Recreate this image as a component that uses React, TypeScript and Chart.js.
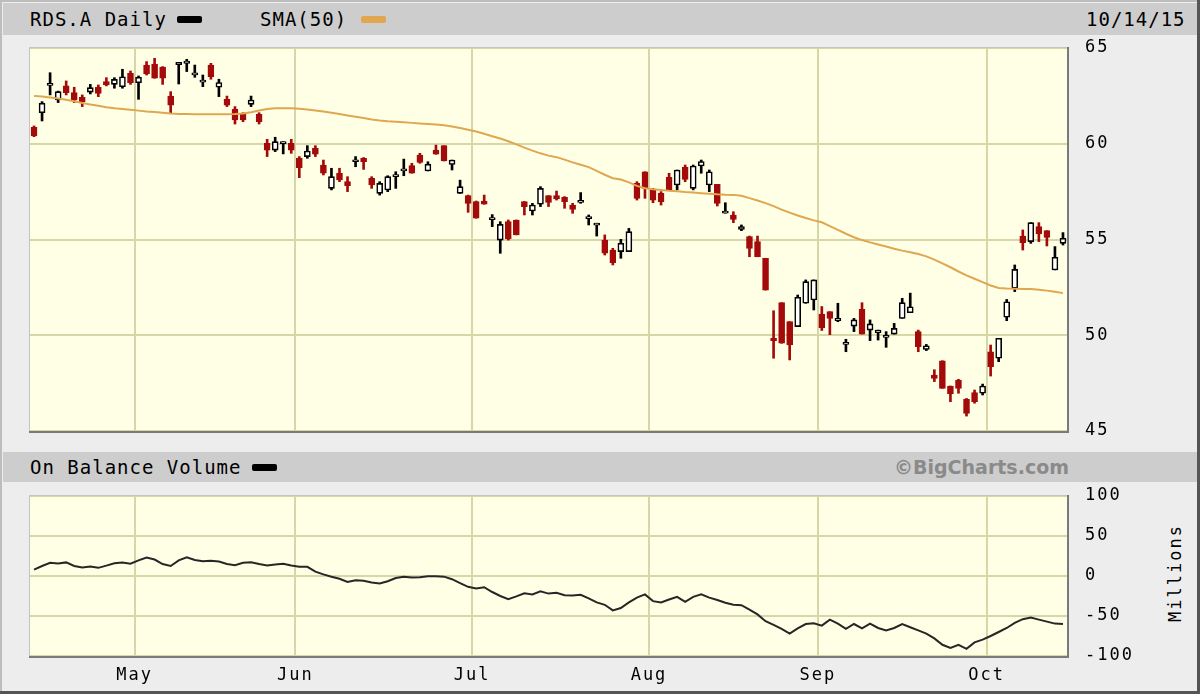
import React, { useEffect, useRef } from 'react';
import { Chart, registerables } from 'chart.js';

Chart.register(...registerables);

// ---------- categories ----------
const START_DATE = '2015-04-14';
const END_DATE = '2015-10-14';
const HOLIDAYS = ['2015-05-25', '2015-07-03', '2015-09-07'];
const MONTH_NAMES = ['Jan', 'Feb', 'Mar', 'Apr', 'May', 'Jun', 'Jul', 'Aug', 'Sep', 'Oct', 'Nov', 'Dec'];

function buildTradingDays(start: string, end: string, holidays: string[]): string[] {
  const out: string[] = [];
  const d = new Date(start + 'T00:00:00Z');
  const e = new Date(end + 'T00:00:00Z');
  while (d <= e) {
    const dow = d.getUTCDay();
    const iso = d.toISOString().slice(0, 10);
    if (dow !== 0 && dow !== 6 && !holidays.includes(iso)) out.push(iso);
    d.setUTCDate(d.getUTCDate() + 1);
  }
  return out;
}
const dates = buildTradingDays(START_DATE, END_DATE, HOLIDAYS);

// ---------- series ----------
const opens = [
  60.86, 61.62, 63.05, 62.29, 63.02, 62.67, 62.43, 62.70, 62.95, 63.24, 63.10, 62.98, 63.68,
  63.19, 64.11, 64.16, 64.00, 62.49, 64.13, 64.20, 63.60, 63.22, 64.11, 62.95, 62.32, 61.80, 61.54, 62.06, 61.54, 60.02, 59.67, 60.00, 60.02,
  59.24, 59.33, 59.76, 58.89, 57.67, 58.46, 58.02, 59.06, 59.24, 58.20, 57.41, 57.59, 58.28, 58.58, 58.86, 59.41, 58.58, 59.67, 59.90, 58.92, 57.41, 57.29,
  56.98, 57.01, 56.04, 54.97, 55.93, 56.02, 56.98, 56.49, 56.84, 57.29, 57.29, 57.20, 56.80, 56.94, 56.09, 55.75, 54.97, 54.45, 54.37, 54.37, 57.93, 58.54,
  57.59, 57.41, 58.25, 57.85, 58.77, 57.67, 58.84, 57.85, 57.88, 56.37, 56.28, 55.53, 55.15, 54.89, 54.02, 49.84, 51.70, 50.71, 50.45, 51.67, 51.84,
  51.10, 51.23, 50.76, 49.52, 50.48, 51.35, 50.27, 50.13, 49.89, 50.06, 50.88, 51.18, 50.19, 49.26, 47.92, 48.67, 47.35, 47.66, 46.65, 47.00, 46.97,
  49.14, 48.80, 50.94, 52.45, 55.18, 54.89, 55.67, 55.46, 53.41, 54.80,
];
const highs = [
  60.93, 62.20, 63.71, 62.75, 63.28, 62.95, 62.55, 63.10, 63.07, 63.45, 63.45, 63.89, 63.80,
  63.54, 64.29, 64.46, 64.03, 62.72, 64.25, 64.41, 64.11, 63.59, 64.20, 63.37, 62.49, 61.94, 61.62, 62.49, 61.62, 60.23, 60.34, 60.11, 60.23,
  59.33, 59.90, 59.90, 59.15, 58.72, 58.72, 58.28, 59.33, 59.28, 58.28, 58.02, 58.33, 58.54, 59.20, 58.98, 59.50, 59.06, 59.93, 59.90, 59.15, 58.10, 57.32,
  57.01, 57.32, 56.30, 55.93, 56.02, 56.02, 56.98, 56.89, 57.76, 57.29, 57.53, 57.24, 56.89, 57.45, 56.28, 55.85, 55.24, 54.54, 55.01, 55.58, 58.02, 58.54,
  57.67, 57.50, 58.46, 58.63, 58.89, 58.89, 59.15, 58.63, 57.88, 56.92, 56.45, 55.76, 55.18, 55.18, 54.02, 51.28, 51.70, 50.71, 52.10, 52.89, 52.89,
  51.50, 51.23, 51.67, 49.79, 50.88, 51.70, 50.80, 50.27, 50.19, 50.62, 51.93, 52.20, 50.27, 49.52, 48.20, 48.67, 47.35, 47.70, 46.70, 47.14, 47.45,
  49.49, 49.84, 51.87, 53.67, 55.50, 55.88, 55.88, 55.46, 54.63, 55.36,
];
const lows = [
  60.37, 61.19, 62.55, 62.15, 62.55, 62.15, 61.94, 62.60, 62.46, 63.02, 62.90, 62.90, 63.10,
  62.32, 63.59, 63.42, 63.10, 61.59, 63.12, 63.77, 63.47, 62.98, 63.37, 62.46, 61.94, 61.03, 61.15, 61.94, 61.03, 59.33, 59.59, 59.47, 59.50,
  58.23, 59.24, 59.33, 58.37, 57.59, 58.02, 57.50, 58.80, 58.66, 57.67, 57.32, 57.50, 57.67, 58.33, 58.46, 58.98, 58.58, 59.45, 59.10, 58.63, 57.41, 56.42,
  56.11, 56.84, 55.67, 54.28, 54.97, 55.24, 56.28, 56.28, 56.72, 56.72, 57.06, 56.63, 56.37, 56.89, 55.76, 55.18, 54.19, 53.67, 54.02, 54.37, 57.06, 57.15,
  56.92, 56.80, 57.59, 57.59, 58.02, 57.59, 58.46, 57.50, 56.75, 56.37, 55.88, 55.46, 54.10, 54.10, 52.36, 48.80, 49.58, 48.71, 50.45, 51.67, 51.32,
  50.25, 50.03, 50.71, 49.14, 50.19, 50.06, 49.72, 49.75, 49.37, 50.06, 50.88, 51.18, 49.14, 49.20, 47.58, 47.23, 46.53, 46.97, 45.78, 46.45, 46.88,
  47.87, 48.62, 50.76, 52.28, 54.45, 54.80, 54.89, 54.66, 53.41, 54.71,
];
const closes = [
  60.41, 62.11, 63.15, 62.72, 62.67, 62.29, 62.20, 62.93, 62.63, 63.07, 63.36, 63.50, 63.19,
  63.47, 63.64, 63.42, 63.42, 62.02, 64.25, 64.32, 63.62, 63.28, 63.50, 63.20, 62.02, 61.24, 61.24, 62.28, 61.15, 59.67, 60.11, 60.11, 59.67,
  58.75, 59.62, 59.45, 58.46, 58.28, 58.11, 57.81, 59.10, 59.06, 57.85, 57.93, 58.28, 58.35, 58.66, 58.46, 59.03, 58.93, 59.45, 59.10, 59.15, 57.76, 56.89,
  56.11, 56.84, 56.11, 55.79, 55.03, 55.24, 56.72, 56.80, 57.67, 56.94, 57.12, 56.98, 56.57, 57.01, 56.16, 55.85, 54.28, 53.79, 54.80, 55.41, 57.15, 57.67,
  57.06, 56.98, 57.59, 58.63, 58.14, 58.84, 59.07, 58.54, 56.89, 56.49, 56.05, 55.67, 54.54, 54.10, 52.36, 49.72, 49.58, 49.49, 51.98, 52.80, 52.89,
  50.40, 50.88, 50.88, 49.60, 50.80, 50.06, 50.59, 50.27, 50.00, 50.36, 51.70, 51.49, 49.40, 49.45, 47.75, 47.23, 46.93, 47.23, 45.92, 46.53, 47.35,
  48.36, 49.84, 51.75, 53.44, 54.83, 55.88, 55.29, 55.11, 54.07, 55.06,
];
const sma50 = [
  62.50, 62.47, 62.42, 62.36, 62.30, 62.22, 62.13, 62.05, 61.98, 61.91, 61.85, 61.81, 61.77,
  61.73, 61.69, 61.66, 61.62, 61.58, 61.56, 61.55, 61.54, 61.54, 61.54, 61.54, 61.54, 61.55, 61.58, 61.65, 61.74, 61.82, 61.85, 61.86, 61.85,
  61.83, 61.79, 61.74, 61.68, 61.62, 61.55, 61.48, 61.41, 61.34, 61.27, 61.22, 61.18, 61.15, 61.12, 61.09, 61.06, 61.03, 61.00, 60.97, 60.90, 60.82, 60.73,
  60.64, 60.52, 60.39, 60.27, 60.13, 59.97, 59.80, 59.64, 59.50, 59.38, 59.30, 59.17, 59.03, 58.90, 58.78, 58.58, 58.38, 58.20, 58.13, 57.98, 57.80, 57.68,
  57.62, 57.59, 57.55, 57.52, 57.48, 57.45, 57.42, 57.39, 57.36, 57.34, 57.33, 57.28, 57.16, 57.04, 56.90, 56.74, 56.56, 56.40, 56.25, 56.12, 56.00,
  55.90, 55.70, 55.50, 55.30, 55.12, 54.97, 54.85, 54.74, 54.63, 54.52, 54.42, 54.33, 54.24, 54.12, 53.95, 53.75, 53.55, 53.33, 53.13, 52.95, 52.77,
  52.60, 52.47, 52.44, 52.43, 52.42, 52.41, 52.38, 52.33, 52.27, 52.20,
];
const obv = [
  8, 12.5, 16.5, 15.5, 17, 12.5, 10.5, 12, 10.2, 13, 16, 17, 15.4,
  19.5, 23, 20.6, 15, 12.5, 19.5, 23.5, 20, 18.5, 19, 18, 15, 13.5, 16.5, 17.3, 15, 13, 14.5, 15.2, 13,
  11.5, 11.5, 5.5, 2, -1, -3.5, -7.5, -5.2, -6, -8, -9.3, -6.5, -2.5, -1, -1.8, -1.5, -0.2, -0.3, -0.8, -4, -9, -13.5,
  -15.5, -14, -20, -25, -29, -25.5, -21.7, -23, -19, -22, -21, -24, -24.5, -23.5, -28, -33, -36, -43, -40, -33, -27, -23,
  -31.4, -33, -29.4, -26, -32.3, -26, -23, -27, -30, -33.5, -36, -36.5, -42, -48, -56.5, -61, -66, -72, -65.5, -60, -59,
  -62, -54.5, -59.5, -66, -60, -65.5, -59.5, -65, -68, -65, -60, -64, -68, -72, -78, -86, -90, -86, -91, -83, -79.5,
  -75, -70, -65, -58.5, -54, -52, -54.5, -57, -59.5, -60,
];

// ---------- tick values ----------
const priceTicks = [45, 50, 55, 60, 65];
const obvTicks = [-100, -50, 0, 50, 100];

// ---------- styles ----------
const RED = '#A30B0B';
const BLACK = '#000000';
const SMA_COLOR = '#E0A650';
const OBV_COLOR = '#262626';
const PLOT_BG = '#FFFFE6';
const GRID = '#D6D6A6';
const PAGE_BG = '#EDEDED';
const BAND_BG = '#CDCDCD';
const MONO = '"DejaVu Sans Mono", monospace';

const monthStartLabel: Record<number, string> = {};
dates.forEach((d, i) => {
  if (i > 0 && d.slice(5, 7) !== dates[i - 1].slice(5, 7)) {
    monthStartLabel[i] = MONTH_NAMES[parseInt(d.slice(5, 7), 10) - 1];
  }
});

const gridColorFn = (ctx: any) => (monthStartLabel[ctx.index] ? GRID : 'rgba(0,0,0,0)');

const plotDecor = {
  id: 'plotDecor',
  beforeDraw(chart: any) {
    const { ctx, chartArea: a } = chart;
    ctx.letterSpacing = '2px';
    ctx.save();
    ctx.fillStyle = PLOT_BG;
    ctx.fillRect(a.left, a.top, a.right - a.left, a.bottom - a.top);
    ctx.restore();
  },
  afterDraw(chart: any) {
    const { ctx, chartArea: a } = chart;
    ctx.save();
    ctx.fillStyle = '#c4c4c4';
    ctx.fillRect(a.left - 1, a.top - 1, a.right - a.left + 1, 1);
    ctx.fillRect(a.left - 1, a.top - 1, 1, a.bottom - a.top + 1);
    ctx.fillStyle = '#7a7a7a';
    ctx.fillRect(a.right, a.top - 1, 2, a.bottom - a.top + 3);
    ctx.fillRect(a.left - 1, a.bottom, a.right - a.left + 3, 2);
    ctx.restore();
  },
};

const tickFont = { family: MONO, size: 17 };

const yGrid = { color: GRID, lineWidth: 2, drawTicks: true, tickLength: 18, tickColor: 'rgba(0,0,0,0)' };

export default function App() {
  const priceRef = useRef<HTMLCanvasElement>(null);
  const obvRef = useRef<HTMLCanvasElement>(null);

  useEffect(() => {
    const candleColor = closes.map((c, i) => (c < opens[i] ? RED : BLACK));
    const bodyFill = closes.map((c, i) => (c < opens[i] ? RED : '#FFFFFF'));
    const bodies = opens.map((o, i) => [Math.min(o, closes[i]), Math.max(o, closes[i])]);
    const wicks = lows.map((l, i) => [l, highs[i]]);

    const priceChart = new Chart(priceRef.current as HTMLCanvasElement, {
      type: 'bar',
      data: {
        labels: dates,
        datasets: [
          {
            type: 'line',
            label: 'SMA(50)',
            data: sma50,
            borderColor: SMA_COLOR,
            borderWidth: 2,
            pointRadius: 0,
            tension: 0,
            order: 0,
          } as any,
          {
            type: 'bar',
            label: 'body',
            data: bodies as any,
            backgroundColor: bodyFill,
            borderColor: candleColor,
            borderWidth: 1.6,
            borderSkipped: false,
            barThickness: 6,
            minBarLength: 2,
            grouped: false,
            order: 1,
          } as any,
          {
            type: 'bar',
            label: 'wick',
            data: wicks as any,
            backgroundColor: candleColor,
            borderWidth: 0,
            barThickness: 2,
            grouped: false,
            order: 2,
          } as any,
        ],
      },
      options: {
        responsive: false,
        maintainAspectRatio: false,
        animation: false,
        events: [],
        layout: { padding: { left: 30, top: 48, right: 0, bottom: 19 } },
        plugins: { legend: { display: false }, tooltip: { enabled: false } },
        scales: {
          x: {
            offset: true,
            grid: { offset: true, color: gridColorFn, lineWidth: 2, drawTicks: false },
            border: { display: false },
            ticks: { display: false, autoSkip: false, maxRotation: 0, minRotation: 0 },
            afterFit: (s: any) => {
              s.height = 0;
            },
          },
          y: {
            position: 'right',
            min: 45,
            max: 65,
            afterBuildTicks: (s: any) => {
              s.ticks = priceTicks.map((v) => ({ value: v }));
            },
            ticks: { padding: 0, color: '#000', font: tickFont },
            grid: yGrid,
            border: { display: false },
            afterFit: (s: any) => {
              s.width = 133;
            },
          },
        },
      } as any,
      plugins: [plotDecor],
    });

    const obvChart = new Chart(obvRef.current as HTMLCanvasElement, {
      type: 'line',
      data: {
        labels: dates,
        datasets: [
          {
            label: 'On Balance Volume',
            data: obv,
            borderColor: OBV_COLOR,
            borderWidth: 2,
            pointRadius: 0,
            tension: 0,
          },
        ],
      },
      options: {
        responsive: false,
        maintainAspectRatio: false,
        animation: false,
        events: [],
        layout: { padding: { left: 30, top: 46, right: 0, bottom: 0 } },
        plugins: { legend: { display: false }, tooltip: { enabled: false } },
        scales: {
          x: {
            offset: true,
            grid: { offset: true, color: gridColorFn, lineWidth: 2, drawTicks: false },
            border: { display: false },
            ticks: {
              autoSkip: false,
              maxRotation: 0,
              minRotation: 0,
              padding: 9,
              labelOffset: -4,
              color: '#000',
              font: tickFont,
              callback: (_v: any, i: number) => monthStartLabel[i] || '',
            },
            afterFit: (s: any) => {
              s.height = 38;
            },
          },
          y: {
            position: 'right',
            min: -100,
            max: 100,
            afterBuildTicks: (s: any) => {
              s.ticks = obvTicks.map((v) => ({ value: v }));
            },
            ticks: { padding: 0, color: '#000', font: tickFont },
            grid: yGrid,
            border: { display: false },
            afterFit: (s: any) => {
              s.width = 133;
            },
          },
        },
      } as any,
      plugins: [plotDecor],
    });

    return () => {
      priceChart.destroy();
      obvChart.destroy();
    };
  }, []);

  const headerText: React.CSSProperties = {
    position: 'absolute',
    fontFamily: MONO,
    fontSize: 19,
    letterSpacing: '1px',
    color: '#000',
    lineHeight: '22px',
    whiteSpace: 'nowrap',
  };

  return (
    <div
      style={{
        position: 'fixed',
        left: 0,
        top: 0,
        width: 1200,
        height: 694,
        background: PAGE_BG,
        overflow: 'hidden',
      }}
    >
      {/* outer frame */}
      <div style={{ position: 'absolute', left: 0, top: 0, width: 1200, height: 2, background: '#bdbdbd' }} />
      <div style={{ position: 'absolute', left: 0, top: 0, width: 2, height: 694, background: '#bdbdbd' }} />
      <div style={{ position: 'absolute', right: 0, top: 0, width: 3, height: 694, background: '#555' }} />
      <div style={{ position: 'absolute', left: 0, bottom: 0, width: 1200, height: 3, background: '#555' }} />

      {/* top band */}
      <div style={{ position: 'absolute', left: 3, top: 3, width: 1194, height: 32, background: BAND_BG }} />
      <div style={{ ...headerText, left: 30, top: 8 }}>RDS.A Daily</div>
      <div style={{ position: 'absolute', left: 177, top: 16, width: 25, height: 7, background: '#000', borderRadius: 2 }} />
      <div style={{ ...headerText, left: 260, top: 8 }}>SMA(50)</div>
      <div style={{ position: 'absolute', left: 361, top: 16, width: 25, height: 7, background: SMA_COLOR, borderRadius: 2 }} />
      <div style={{ ...headerText, left: 1086, top: 8 }}>10/14/15</div>

      {/* second band */}
      <div style={{ position: 'absolute', left: 3, top: 452, width: 1194, height: 30, background: BAND_BG }} />
      <div style={{ ...headerText, left: 30, top: 456 }}>On Balance Volume</div>
      <div style={{ position: 'absolute', left: 252, top: 464, width: 25, height: 7, background: '#000', borderRadius: 2 }} />
      <div
        style={{
          position: 'absolute',
          right: 131,
          top: 455,
          fontFamily: '"DejaVu Sans", sans-serif',
          fontWeight: 'bold',
          fontSize: 19,
          lineHeight: '24px',
          color: '#8a8a8a',
          whiteSpace: 'nowrap',
        }}
      >
        ©BigCharts.com
      </div>

      {/* Millions */}
      <div
        style={{
          position: 'absolute',
          left: 1175,
          top: 573,
          transform: 'translate(-50%, -50%) rotate(-90deg)',
          fontFamily: MONO,
          fontSize: 17,
          letterSpacing: '2px',
          whiteSpace: 'nowrap',
          color: '#000',
        }}
      >
        Millions
      </div>

      <canvas ref={priceRef} width={1200} height={450} style={{ position: 'absolute', left: 0, top: 0 }} />
      <canvas ref={obvRef} width={1200} height={244} style={{ position: 'absolute', left: 0, top: 450 }} />
    </div>
  );
}
